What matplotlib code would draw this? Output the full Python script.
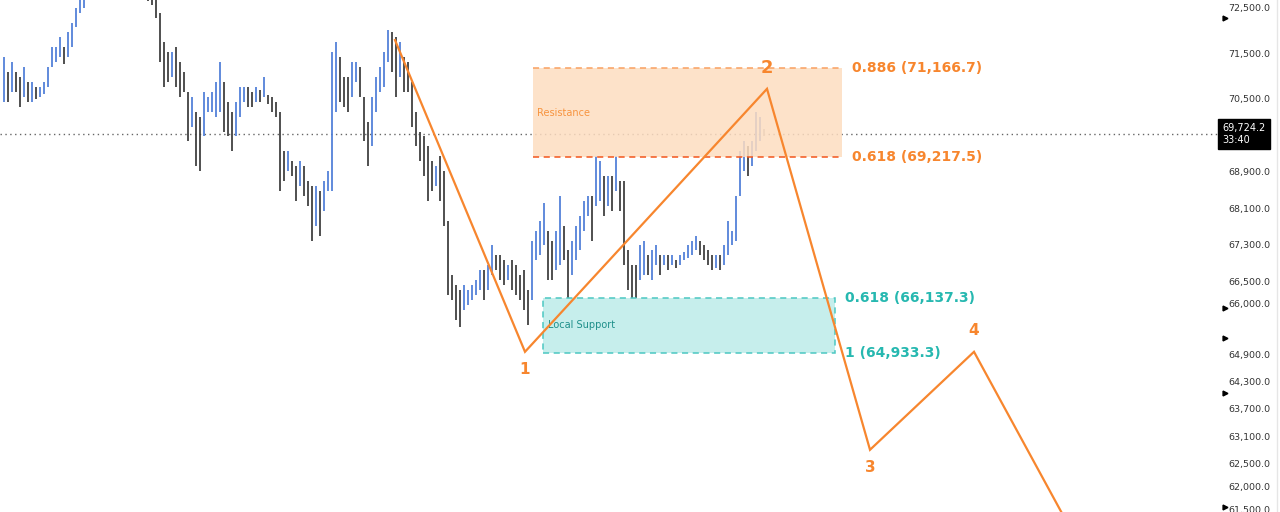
import numpy as np
import matplotlib
matplotlib.use("Agg")
import matplotlib.pyplot as plt
from matplotlib.lines import Line2D
from matplotlib.patches import Rectangle

# price bars (high, low), one per bar
highs = [71413, 71087, 71305, 71087, 70979, 71196, 70870, 70870, 70761, 70761,
         70870, 71196, 71631, 71631, 71848, 71631, 71957, 72174, 72500, 72720,
         72900, 73100, 73250, 73400, 73500, 73450, 73600, 73550, 73400, 73500,
         73350, 73300, 73200, 73250, 73100, 73000, 72950, 72850, 72700, 72392,
         71739, 71522, 71522, 71631, 71305, 71087, 70653, 70544, 70218, 70109,
         70653, 70544, 70653, 70870, 71305, 70870, 70435, 70218, 70435, 70761,
         70761, 70761, 70653, 70761, 70700, 70979, 70590, 70544, 70435, 70218,
         69348, 69348, 69131, 69022, 69131, 69022, 68696, 68587, 68587, 68478,
         68696, 68913, 71522, 71739, 71413, 70979, 70979, 71305, 71305, 71196,
         70544, 70000, 70544, 70979, 71196, 71522, 72000, 71957, 71848, 71739,
         71413, 71305, 70870, 70218, 69783, 69674, 69457, 69131, 69022, 69239,
         68913, 67826, 66631, 66413, 66305, 66413, 66305, 66413, 66522, 66739,
         66739, 66848, 67283, 67065, 67065, 66957, 66848, 66957, 66848, 66631,
         66739, 66305, 67391, 67609, 67826, 68218, 67609, 67391, 67609, 68370,
         67718, 67174, 67391, 67718, 67935, 68261, 68370, 68370, 69239, 69131,
         68805, 68805, 68805, 69239, 68696, 68696, 67174, 66848, 66848, 67283,
         67391, 67065, 67174, 67283, 67065, 67065, 67065, 67065, 66957, 67065,
         67130, 67283, 67391, 67500, 67391, 67283, 67174, 67065, 67065, 67065,
         67283, 67826, 67609, 68370, 69348, 69565, 69457, 69565, 70218, 70109,
         69830]
lows = [70435, 70435, 70653, 70653, 70326, 70544, 70435, 70435, 70500, 70544,
        70610, 70761, 71196, 71305, 71413, 71260, 71413, 71631, 72066, 72392,
        72500, 72750, 72900, 73050, 73150, 73100, 73250, 73200, 73050, 73150,
        73000, 72950, 72850, 72900, 72750, 72700, 72650, 72550, 72283, 71305,
        70761, 70870, 70979, 70761, 70544, 70653, 69565, 69892, 69022, 68913,
        69674, 70218, 70218, 70109, 70218, 69783, 69674, 69348, 69674, 70109,
        70435, 70326, 70326, 70435, 70435, 70544, 70390, 70218, 70109, 68478,
        68696, 68913, 68805, 68261, 68587, 68370, 68152, 67391, 67718, 67500,
        68044, 68478, 68478, 70218, 70435, 70326, 70218, 70544, 70870, 70544,
        69565, 69022, 69457, 70218, 70653, 70761, 71305, 71087, 70544, 70979,
        70653, 70653, 69892, 69457, 69131, 68805, 68261, 68478, 68587, 68261,
        67718, 66196, 66087, 65652, 65500, 65870, 65978, 66087, 66196, 66305,
        66087, 66305, 66631, 66739, 66522, 66413, 66522, 66305, 66196, 66087,
        65870, 65544, 66087, 66957, 67065, 67283, 66522, 66522, 66739, 66848,
        66957, 66087, 66631, 66957, 67174, 67609, 67935, 67391, 68152, 68261,
        67935, 68152, 68044, 68478, 68044, 66848, 66305, 66087, 65652, 66522,
        66631, 66631, 66522, 66848, 66631, 66848, 66739, 66848, 66783, 66848,
        66957, 67000, 67065, 67174, 67065, 66957, 66848, 66739, 66783, 66739,
        66848, 67065, 67283, 67391, 68370, 68913, 68805, 69022, 69348, 69565,
        69674]
last_price = 69724.2
last_label = "69,724.2\n33:40"

# wave projection (bar index, price) and its labels
wave_x = [97.75, 130.25, 190.75, 216.5, 242.5, 271.25]
wave_y = [71790, 64950, 70720, 62800, 64950, 60320]
wave_labels = ["1", "2", "3", "4"]

# fibonacci zones
res_x = (132.25, 209.5)
res_levels = (69217.5, 71166.7)
res_names = ("0.618 (69,217.5)", "0.886 (71,166.7)")
sup_x = (134.75, 207.75)
sup_levels = (64933.3, 66137.3)
sup_names = ("1 (64,933.3)", "0.618 (66,137.3)")

yticks = [72500, 71500, 70500, 68900, 68100, 67300, 66500, 66000,
          64900, 64300, 63700, 63100, 62500, 62000, 61500]
alert_prices = [72274, 65911, 65253, 64046, 61545]

ORANGE = "#F7862E"
TEAL = "#26B8B0"

fig = plt.figure(figsize=(12.8, 5.12), dpi=100)
ax = fig.add_axes([0, 0, 1220 / 1280, 1])
ax.set_xlim(-1, 304)
ax.set_ylim(61435, 72669)

# bars
idx = np.arange(len(highs))
mids = (np.array(highs) + np.array(lows)) / 2
cols = ["#4F7ED8" if i == 0 or mids[i] >= mids[i - 1] else "#3C3C3C" for i in idx]
cols[-1] = "#AAAAAA"
ax.vlines(idx, lows, highs, colors=cols, lw=1.4, alpha=0.9, zorder=2)

# last price line
ax.axhline(last_price, color="#666666", lw=1, ls=(0, (1, 2.5)), zorder=1)

# resistance zone
ax.add_patch(Rectangle((res_x[0], res_levels[0]), res_x[1] - res_x[0],
                       res_levels[1] - res_levels[0], facecolor="#FDDDC0",
                       edgecolor="none", alpha=0.85, zorder=3))
ax.hlines(res_levels[1], res_x[0], res_x[1], colors="#F9A060", lw=1.1, ls=(0, (4, 3)), zorder=4)
ax.hlines(res_levels[0], res_x[0], res_x[1], colors="#F2561D", lw=1.1, ls=(0, (4, 3)), zorder=4)
ax.text(res_x[0] + 1, np.mean(res_levels), "Resistance", color="#F7943F",
        fontsize=7, va="center", ha="left", zorder=5)
for lvl, name in zip(res_levels, res_names):
    ax.text(res_x[1] + 2.6, lvl, name, color=ORANGE, fontsize=10,
            fontweight="bold", va="center", ha="left")

# support zone
ax.add_patch(Rectangle((sup_x[0], sup_levels[0]), sup_x[1] - sup_x[0],
                       sup_levels[1] - sup_levels[0], facecolor="#C6EEEC",
                       edgecolor="#4CC8C2", lw=1.1, ls=(0, (4, 3)), zorder=3))
ax.text(sup_x[0] + 1.2, np.mean(sup_levels), "Local Support", color="#1E8F8A",
        fontsize=7, va="center", ha="left", zorder=5)
for lvl, name in zip(sup_levels, sup_names):
    ax.text(sup_x[1] + 2.4, lvl, name, color=TEAL, fontsize=10,
            fontweight="bold", va="center", ha="left")

# wave
ax.plot(wave_x, wave_y, color=ORANGE, lw=1.6, zorder=6, solid_joinstyle="miter")
for k, lab in enumerate(wave_labels, start=1):
    up = wave_y[k] > wave_y[k - 1]
    ax.annotate(lab, (wave_x[k], wave_y[k]), xytext=(0, 15 if up else -13),
                textcoords="offset points", ha="center", va="center",
                color=ORANGE, fontsize=13 if lab == "2" else 11,
                fontweight="bold", zorder=7)

# right price scale
ax.yaxis.tick_right()
ax.set_yticks(yticks)
ax.set_yticklabels([f"{v:,.1f}" for v in yticks])
ax.tick_params(axis="y", length=0, pad=6, labelsize=6.8, labelcolor="#333333")
ax.set_xticks([])
for s in ax.spines.values():
    s.set_visible(False)

ax.plot(np.full(len(alert_prices), 1.004), alert_prices, ">", color="black",
        ms=3.5, transform=ax.get_yaxis_transform(), clip_on=False)

ax.annotate(last_label, (1.002, last_price), xycoords=("axes fraction", "data"),
            ha="left", va="center", fontsize=7, color="white", linespacing=1.2,
            bbox=dict(boxstyle="square,pad=0.45", fc="black", ec="black"),
            annotation_clip=False)

fig.add_artist(Line2D([0.998, 0.998], [0, 1], color="#E6E6E6", lw=1))

fig.savefig("out.png", dpi=100, facecolor="white")
